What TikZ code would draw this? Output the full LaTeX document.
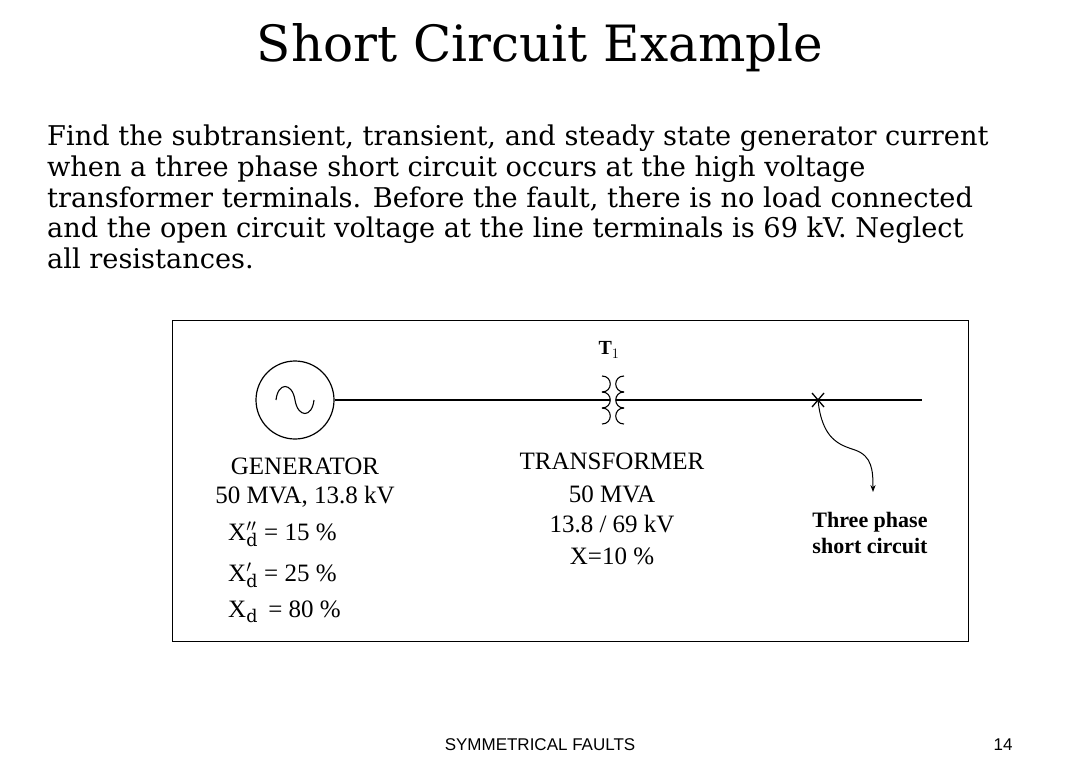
\documentclass[tikz,border=0pt]{standalone}
\usepackage{fontspec}
\setmainfont{DejaVu Serif}
\newfontfamily\dfont{Liberation Serif}
\newfontfamily\footfont{Liberation Sans}
\usetikzlibrary{arrows.meta}
\begin{document}
\begin{tikzpicture}[x=1pt,y=-1pt,
  wire/.style={line width=1.4pt},
  dtext/.style={font=\dfont\fontsize{25}{28}\selectfont,inner sep=0pt}]
\useasboundingbox (0,0) rectangle (1080,760);
\node[inner sep=0pt,font=\fontsize{50}{56}\selectfont] (title) at (540,48) {Short Circuit Example};
\node[inner sep=0pt,anchor=north west,align=left,font=\fontsize{27.2}{30.7}\selectfont] (para) at (47,125)
{Find the subtransient, transient, and steady state generator current\\when a three phase short circuit occurs at the high voltage\\transformer terminals. Before the fault, there is no load connected\\and the open circuit voltage at the line terminals is 69 kV. Neglect\\all resistances.};
\node[draw,line width=0.8pt,minimum width=796pt,minimum height=321pt,anchor=north west,inner sep=0pt] (box) at (172,320) {};
% generator
\node[draw,circle,line width=1.2pt,minimum size=78pt,inner sep=0pt] (gen) at (295,400) {};
\draw[line width=1.1pt] (276,400) .. controls (278,382) and (292,382) .. (295,400) .. controls (298,418) and (312,418) .. (314,400);
\coordinate (tl) at (610,400);
\coordinate (tr) at (616,400);
\coordinate (xf) at (818,400);
\coordinate (end) at (922,400);
\draw[wire] (gen.east) -- (tl);
\draw[wire] (tr) -- (end);
% transformer coils
\foreach \i in {0,1,2}{
  \draw[line width=1.1pt] (602,376+\i*16) .. controls (613,376+\i*16) and (613,392+\i*16) .. (602,392+\i*16);
  \draw[line width=1.1pt] (624,376+\i*16) .. controls (613,376+\i*16) and (613,392+\i*16) .. (624,392+\i*16);
}
\node[dtext,font=\dfont\bfseries\fontsize{20}{22}\selectfont] (t1) at (609,350) {T$_1$};
% fault
\draw[line width=1.3pt] (812,393) -- (824,407) (824,393) -- (812,407);
\coordinate (ae) at (873,492);
\draw[line width=1pt,-{Stealth[length=7pt]}] (xf) .. controls (822,440) and (840,445) .. (855,450) .. controls (872,456) and (873,470) .. (ae);
\node[dtext,font=\dfont\bfseries\fontsize{22}{26}\selectfont,align=center] (sc) at (870,533) {Three phase\\short circuit};
% generator text
\node[dtext] (g1) at (305,466) {GENERATOR};
\node[dtext] (g2) at (305,497) {50 MVA, 13.8 kV};
\node[dtext,anchor=west] (g3) at (228,534) {X$''_{\rm d}$ = 15 \%};
\node[dtext,anchor=west] (g4) at (228,575) {X$'_{\rm d}$ = 25 \%};
\node[dtext,anchor=west] (g5) at (228,612) {X$_{\rm d}$\, = 80 \%};
% transformer text
\node[dtext] (tr1) at (612,461) {TRANSFORMER};
\node[dtext] (tr2) at (612,494) {50 MVA};
\node[dtext] (tr3) at (612,524) {13.8 / 69 kV};
\node[dtext] (tr4) at (612,556) {X=10 \%};
% footer
\node[inner sep=0pt,font=\footfont\fontsize{17}{20}\selectfont] (foot) at (540,745) {SYMMETRICAL FAULTS};
\node[inner sep=0pt,font=\footfont\fontsize{17}{20}\selectfont] (pg) at (1003,745) {14};
\end{tikzpicture}
\end{document}
